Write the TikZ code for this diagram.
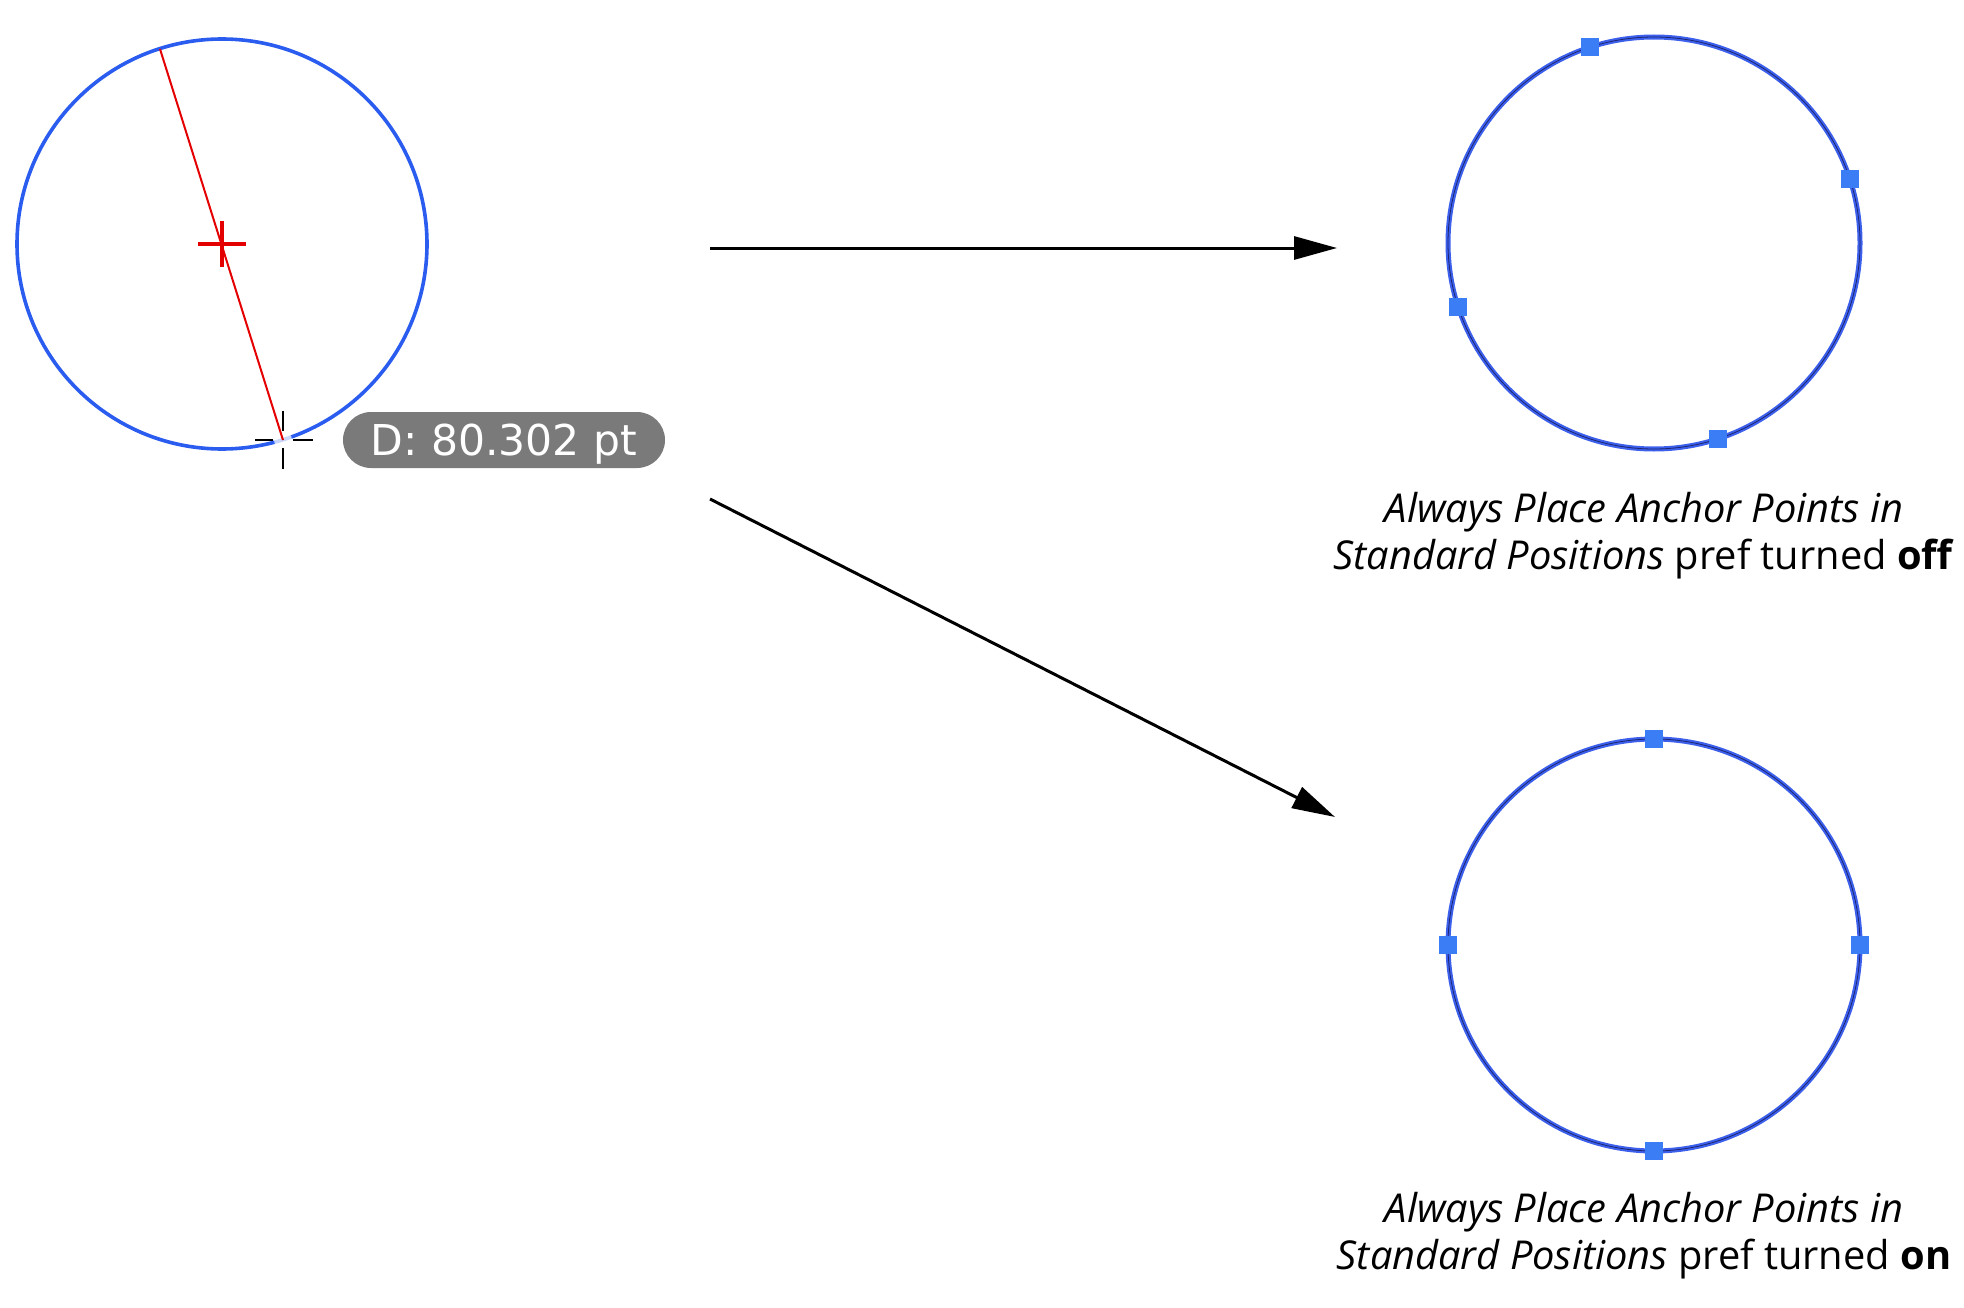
\documentclass[tikz,border=0pt]{standalone}
\usepackage{fontspec}
\setmainfont{Open Sans}
\newfontfamily\labelfont{DejaVu Sans}
\usetikzlibrary{arrows.meta}
\definecolor{selblue}{RGB}{43,92,240}
\definecolor{pathblue}{RGB}{60,96,236}
\definecolor{pathdark}{RGB}{28,38,110}
\definecolor{anchorblue}{RGB}{59,125,245}
\definecolor{guidered}{RGB}{228,0,0}
\definecolor{pillgray}{RGB}{122,122,122}
\tikzset{
  selcircle/.style={circle, draw=selblue, line width=3.6pt, minimum size=410pt, inner sep=0pt, outer sep=0pt},
  pathcircle/.style={circle, draw=pathblue, line width=5pt, minimum size=412pt, inner sep=0pt, outer sep=0pt,
    postaction={draw=pathdark, line width=0.8pt}},
  handle/.style={rectangle, fill=anchorblue, minimum size=18pt, inner sep=0pt},
  flowarrow/.style={line width=3pt, -{Triangle[length=43pt, width=23pt]}},
  caption/.style={font=\fontsize{39.8}{47}\selectfont, anchor=base, inner sep=0pt},
  pill/.style={fill=pillgray, rounded corners=28pt, minimum width=322pt, minimum height=56pt, inner sep=0pt,
    text=white, font=\labelfont\fontsize{42.5}{50}\selectfont, text height=31pt, text depth=0pt},
  cursorline/.style={line width=2.4pt, black},
}
\begin{document}
\begin{tikzpicture}[x=1pt, y=-1pt]
\useasboundingbox (0,0) rectangle (1964,1308);

% left circle being drawn
\node[selcircle] (left) at (222,244) {};
\coordinate (cur) at (283,440);
\coordinate (rtop) at (160,49);
\fill[white, opacity=0.75] (cur) circle[radius=9];
\draw[guidered, line width=2pt] (rtop) -- (cur);
\draw[guidered, line width=4.2pt] (left.center) ++(-24,0) -- ++(48,0);
\draw[guidered, line width=4.2pt] (left.center) ++(0,-23) -- ++(0,46);
% cursor crosshair
\draw[cursorline] (cur) ++(-28,0) -- ++(18,0);
\draw[cursorline] (cur) ++(10,0) -- ++(20,0);
\draw[cursorline] (cur) ++(0,-29) -- ++(0,20);
\draw[cursorline] (cur) ++(0,8) -- ++(0,21);
% distance label
\node[pill] (dlabel) at (504,440) {D: 80.302 pt};

% arrows
\coordinate (a1s) at (710,248);
\coordinate (a1e) at (1337,248);
\coordinate (a2s) at (710,499);
\coordinate (a2e) at (1335,817);
\draw[flowarrow] (a1s) -- (a1e);
\draw[flowarrow] (a2s) -- (a2e);

% top-right circle: pref off
\node[pathcircle] (tr) at (1654,243) {};
\node[handle] (t1) at (tr.108) {};
\node[handle] (t2) at (tr.18) {};
\node[handle] (t3) at (tr.198) {};
\node[handle] (t4) at (tr.288) {};
\node[caption] (c1a) at (1644,522) {\itshape Always Place Anchor Points in};
\node[caption] (c1b) at (1644,569) {\itshape Standard Positions\upshape{} pref turned \textbf{off}};

% bottom-right circle: pref on
\node[pathcircle] (br) at (1654,945) {};
\node[handle] (b1) at (br.90) {};
\node[handle] (b2) at (br.0) {};
\node[handle] (b3) at (br.180) {};
\node[handle] (b4) at (br.270) {};
\node[caption] (c2a) at (1644,1222) {\itshape Always Place Anchor Points in};
\node[caption] (c2b) at (1644,1269) {\itshape Standard Positions\upshape{} pref turned \textbf{on}};
\end{tikzpicture}
\end{document}
